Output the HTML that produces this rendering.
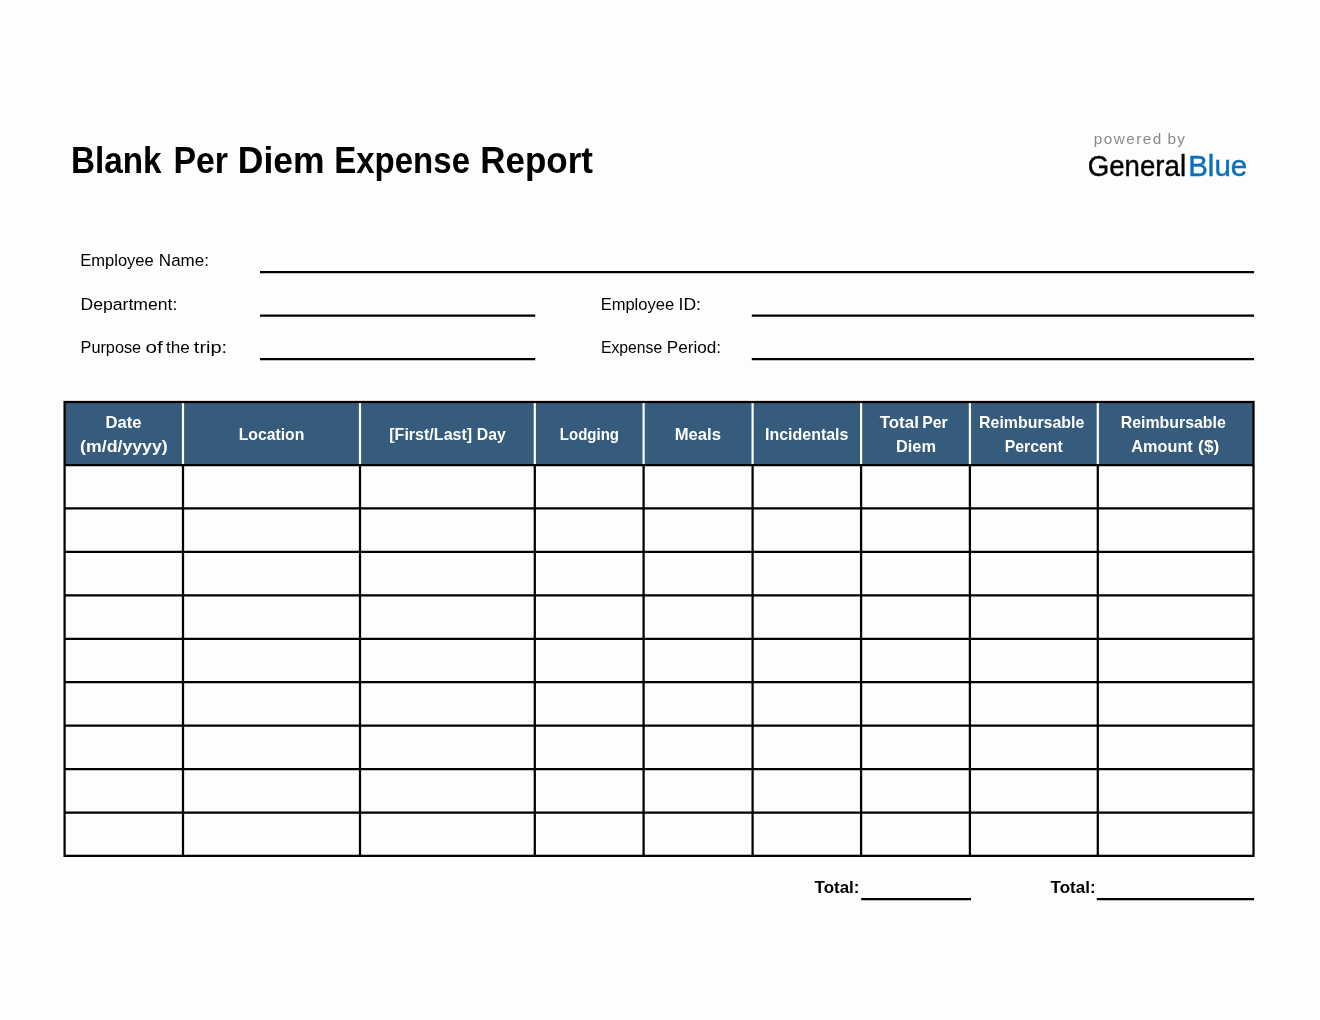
<!DOCTYPE html>
<html lang="en">
<head>
<meta charset="utf-8">
<title>Blank Per Diem Expense Report</title>
<style>
html,body{margin:0;padding:0;background:#fdfdfd;}
body{width:1320px;height:1020px;overflow:hidden;}
svg{display:block;font-family:'Liberation Sans', sans-serif;will-change:transform;}
.title{font-size:36.8px;font-weight:bold;fill:#000}
.pow{font-size:15.3px;font-weight:normal;fill:#8a8a8a}
.gen{font-size:30.3px;font-weight:normal;fill:#000;stroke:#000;stroke-width:0.45px}
.blue{font-size:30.3px;font-weight:normal;fill:#0b6fba;stroke:#0b6fba;stroke-width:0.45px}
.lab{font-size:16.9px;font-weight:normal;fill:#000}
.th{font-size:16.9px;font-weight:bold;fill:#fff}
.tot{font-size:16.9px;font-weight:bold;fill:#000}
.k{stroke:#000;stroke-width:2.25;fill:none}
.w{stroke:#fff;stroke-width:2.2;fill:none}
</style>
</head>
<body>
<svg width="1320" height="1020" viewBox="0 0 1320 1020">
<g class="k">
<path d="M260 272H1254.1"/>
<path d="M260 315.6H535.2M751.8 315.6H1254.1"/>
<path d="M260 359.0H535.2M751.8 359.0H1254.1"/>
<path d="M861.2 899H971M1096.8 899H1254.1"/>
</g>
<rect x="64.6" y="402.0" width="1188.9" height="63.0" fill="#355b7d"/>
<g class="w">
<path d="M183.0 403V464M360.0 403V464M534.8 403V464M643.6 403V464M752.6 403V464M861.1 403V464M969.9 403V464M1097.8 403V464"/>
</g>
<g class="k">
<path d="M183.0 465V856M360.0 465V856M534.8 465V856M643.6 465V856M752.6 465V856M861.1 465V856M969.9 465V856M1097.8 465V856"/>
<path d="M64.6 465.00H1253.5M64.6 508.44H1253.5M64.6 551.89H1253.5M64.6 595.33H1253.5M64.6 638.78H1253.5M64.6 682.22H1253.5M64.6 725.67H1253.5M64.6 769.11H1253.5M64.6 812.56H1253.5"/>
<rect x="64.6" y="402.0" width="1188.9" height="453.85"/>
</g>
<text class="title" y="173.0"><tspan x="70.90" textLength="90.57" lengthAdjust="spacingAndGlyphs">Blank</tspan> <tspan x="173.44" textLength="54.57" lengthAdjust="spacingAndGlyphs">Per</tspan> <tspan x="237.84" textLength="86.84" lengthAdjust="spacingAndGlyphs">Diem</tspan> <tspan x="334.17" textLength="135.88" lengthAdjust="spacingAndGlyphs">Expense</tspan> <tspan x="480.21" textLength="112.77" lengthAdjust="spacingAndGlyphs">Report</tspan></text>
<text class="pow" y="143.9"><tspan x="1093.74" textLength="67.49" lengthAdjust="spacing">powered</tspan> <tspan x="1167.59" textLength="17.33" lengthAdjust="spacing">by</tspan></text>
<text class="gen" y="175.7"><tspan x="1087.71" textLength="98.33" lengthAdjust="spacingAndGlyphs">General</tspan></text>
<text class="blue" y="175.7"><tspan x="1188.19" textLength="58.96" lengthAdjust="spacingAndGlyphs">Blue</tspan></text>
<text class="lab" y="265.9"><tspan x="80.25" textLength="73.49" lengthAdjust="spacingAndGlyphs">Employee</tspan> <tspan x="158.86" textLength="50.06" lengthAdjust="spacingAndGlyphs">Name:</tspan></text>
<text class="lab" y="309.5"><tspan x="80.42" textLength="96.97" lengthAdjust="spacingAndGlyphs">Department:</tspan></text>
<text class="lab" y="352.9"><tspan x="80.54" textLength="60.62" lengthAdjust="spacingAndGlyphs">Purpose</tspan> <tspan x="145.60" textLength="17.17" lengthAdjust="spacingAndGlyphs">of</tspan> <tspan x="165.97" textLength="23.79" lengthAdjust="spacingAndGlyphs">the</tspan> <tspan x="193.89" textLength="33.31" lengthAdjust="spacingAndGlyphs">trip:</tspan></text>
<text class="lab" y="309.5"><tspan x="600.65" textLength="73.49" lengthAdjust="spacingAndGlyphs">Employee</tspan> <tspan x="678.55" textLength="22.45" lengthAdjust="spacingAndGlyphs">ID:</tspan></text>
<text class="lab" y="352.9"><tspan x="600.96" textLength="61.27" lengthAdjust="spacingAndGlyphs">Expense</tspan> <tspan x="666.83" textLength="54.27" lengthAdjust="spacingAndGlyphs">Period:</tspan></text>
<text class="th" y="428.1"><tspan x="105.58" textLength="36.01" lengthAdjust="spacingAndGlyphs">Date</tspan></text>
<text class="th" y="452.0"><tspan x="80.12" textLength="87.61" lengthAdjust="spacingAndGlyphs">(m/d/yyyy)</tspan></text>
<text class="th" y="439.6"><tspan x="238.75" textLength="65.60" lengthAdjust="spacingAndGlyphs">Location</tspan></text>
<text class="th" y="439.6"><tspan x="389.22" textLength="83.00" lengthAdjust="spacingAndGlyphs">[First/Last]</tspan> <tspan x="476.85" textLength="28.98" lengthAdjust="spacingAndGlyphs">Day</tspan></text>
<text class="th" y="439.6"><tspan x="559.82" textLength="59.21" lengthAdjust="spacingAndGlyphs">Lodging</tspan></text>
<text class="th" y="439.6"><tspan x="674.68" textLength="46.26" lengthAdjust="spacingAndGlyphs">Meals</tspan></text>
<text class="th" y="439.6"><tspan x="764.99" textLength="83.46" lengthAdjust="spacingAndGlyphs">Incidentals</tspan></text>
<text class="th" y="428.1"><tspan x="879.68" textLength="39.20" lengthAdjust="spacingAndGlyphs">Total</tspan> <tspan x="922.23" textLength="25.49" lengthAdjust="spacingAndGlyphs">Per</tspan></text>
<text class="th" y="452.0"><tspan x="895.96" textLength="40.02" lengthAdjust="spacingAndGlyphs">Diem</tspan></text>
<text class="th" y="428.1"><tspan x="979.12" textLength="105.11" lengthAdjust="spacingAndGlyphs">Reimbursable</tspan></text>
<text class="th" y="452.0"><tspan x="1004.65" textLength="58.16" lengthAdjust="spacingAndGlyphs">Percent</tspan></text>
<text class="th" y="428.1"><tspan x="1120.72" textLength="105.11" lengthAdjust="spacingAndGlyphs">Reimbursable</tspan></text>
<text class="th" y="452.0"><tspan x="1131.29" textLength="61.51" lengthAdjust="spacingAndGlyphs">Amount</tspan> <tspan x="1198.12" textLength="21.19" lengthAdjust="spacingAndGlyphs">($)</tspan></text>
<text class="tot" y="893.0"><tspan x="814.52" textLength="44.95" lengthAdjust="spacingAndGlyphs">Total:</tspan></text>
<text class="tot" y="893.0"><tspan x="1050.62" textLength="44.95" lengthAdjust="spacingAndGlyphs">Total:</tspan></text>
</svg>
</body>
</html>
